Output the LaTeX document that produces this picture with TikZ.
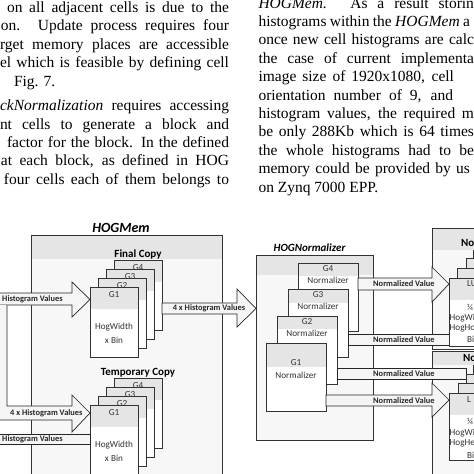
\documentclass[tikz,border=0pt]{standalone}
\usepackage{fontspec}
\setmainfont{Liberation Serif}
\newfontfamily\calib{Carlito}
\begin{document}
\begin{tikzpicture}[x=1pt,y=-1pt,
  txt/.style={inner sep=0pt, outer sep=0pt, anchor=base west, font=\fontsize{15.5}{18}\selectfont},
  box/.style={draw=black!80, line width=0.8pt, fill=black!3, anchor=north west, inner sep=0pt, outer sep=0pt,
    path picture={\fill[black!10] (path picture bounding box.north west) rectangle ([yshift=-#1]path picture bounding box.north east);}},
  box/.default=22pt,
  card/.style={draw=black!80, line width=0.8pt, fill=white, anchor=north west, inner sep=0pt, outer sep=0pt,
    path picture={\fill[black!10] (path picture bounding box.north west) rectangle ([yshift=-#1]path picture bounding box.north east);}},
  card/.default=22pt,
  barrow/.style={draw=black!85, line width=0.7pt, fill=black!4},
  bline/.style={draw=black!85, line width=0.7pt},
  alab/.style={font=\calib\bfseries\fontsize{8.4}{9}\selectfont, inner sep=0pt, text=black!85},
  clab/.style={font=\calib\fontsize{9.2}{10}\selectfont, inner sep=0pt, text=black!80},
  ttl/.style={font=\calib\bfseries\fontsize{11}{12}\selectfont, inner sep=0pt, text=black},
  bigttl/.style={font=\calib\bfseries\itshape\fontsize{14}{15}\selectfont, inner sep=0pt, text=black}
]
\useasboundingbox (0,0) rectangle (474,474);

% ---------- body text, left column ----------
\node[txt] (l1) at (7,12.5) {\makebox[222pt][s]{on all adjacent cells is due to the}};
\node[txt] (l2) at (1,30.9) {\makebox[228pt][s]{on. Update process requires four}};
\node[txt] (l3) at (0,49.3) {\makebox[229pt][s]{rget memory places are accessible}};
\node[txt] (l4) at (0,67.7) {\makebox[229pt][s]{el which is feasible by defining cell}};
\node[txt] (l5) at (14,86.1) {Fig. 7.};
\node[txt] (l6) at (0,110.5) {\makebox[229pt][s]{\textit{ckNormalization} requires accessing}};
\node[txt] (l7) at (0,129) {\makebox[229pt][s]{nt cells to generate a block and}};
\node[txt] (l8) at (7,147.4) {\makebox[222pt][s]{factor for the block. In the defined}};
\node[txt] (l9) at (1,165.8) {\makebox[228pt][s]{at each block, as defined in HOG}};
\node[txt] (l10) at (4,184.2) {\makebox[225pt][s]{four cells each of them belongs to}};

% ---------- body text, right column ----------
\node[txt] (r1) at (258.5,8) {\makebox[215.5pt][s]{\textit{HOGMem.} As a result storin}};
\node[txt] (r2) at (258.5,26.4) {\makebox[211.5pt][s]{histograms within the \textit{HOGMem} a}};
\node[txt] (r3) at (258.5,44.8) {\makebox[215.5pt][s]{once new cell histograms are calc}};
\node[txt] (r4) at (258.5,63.2) {\makebox[215.5pt][s]{the case of current implementa}};
\node[txt] (r5) at (258.5,81.6) {\makebox[195.5pt][s]{image size of 1920x1080, cell}};
\node[txt] (r6) at (258.5,100) {\makebox[194.5pt][s]{orientation number of 9, and}};
\node[txt] (r7) at (258.5,118.4) {\makebox[215.5pt][s]{histogram values, the required m}};
\node[txt] (r8) at (258.5,136.8) {\makebox[215.5pt][s]{be only 288Kb which is 64 times}};
\node[txt] (r9) at (258.5,155.2) {\makebox[215.5pt][s]{the whole histograms had to be}};
\node[txt] (r10) at (258.5,173.6) {\makebox[211.5pt][s]{memory could be provided by us}};
\node[txt] (r11) at (258.5,192) {on Zynq 7000 EPP.};

% ---------- HOGMem ----------
\node[bigttl] (memt) at (121,228) {HOGMem};
\node[box=24pt, minimum width=191pt, minimum height=255pt] (mem) at (31,235) {};

\node[ttl] (fct) at (138,255) {Final Copy};
\node[card, minimum width=48pt, minimum height=70pt] (f4) at (114,260) {};
\node[card, minimum width=48pt, minimum height=70pt] (f3) at (106,269) {};
\node[card, minimum width=48pt, minimum height=70pt] (f2) at (98,278) {};
\node[card, minimum width=48pt, minimum height=70pt] (f1) at (90,287) {};
\node[clab] (f4l) at (138,267.5) {G4};
\node[clab] (f3l) at (130,276.5) {G3};
\node[clab] (f2l) at (122,285.5) {G2};
\node[clab] (f1l) at (114,294.5) {G1};
\node[clab] (f1a) at (114,327.5) {HogWidth};
\node[clab] (f1b) at (114,340) {x Bin};

\node[ttl] (tct) at (138,373) {Temporary Copy};
\node[card, minimum width=48pt, minimum height=70pt] (t4) at (114,378) {};
\node[card, minimum width=48pt, minimum height=70pt] (t3) at (106,387) {};
\node[card, minimum width=48pt, minimum height=70pt] (t2) at (98,396) {};
\node[card, minimum width=48pt, minimum height=70pt] (t1) at (90,405) {};
\node[clab] (t4l) at (138,385.5) {G4};
\node[clab] (t3l) at (130,394.5) {G3};
\node[clab] (t2l) at (122,403.5) {G2};
\node[clab] (t1l) at (114,412.5) {G1};
\node[clab] (t1a) at (114,445.5) {HogWidth};
\node[clab] (t1b) at (114,458) {x Bin};

% ---------- HOGNormalizer ----------
\node[ttl, font=\calib\bfseries\itshape\fontsize{11}{12}\selectfont] (nort) at (309.5,247.5) {HOGNormalizer};
\node[box=20pt, minimum width=117pt, minimum height=185pt] (nor) at (256,255) {};
\node[card=13pt, minimum width=60pt, minimum height=68pt] (n4) at (298,263) {};
\node[card=13pt, minimum width=60pt, minimum height=68pt] (n3) at (288,289.5) {};
\node[card=13pt, minimum width=60pt, minimum height=68pt] (n2) at (277,316) {};
\node[card=24pt, minimum width=60pt, minimum height=68pt] (n1) at (266,343) {};
\node[clab] (n4l) at (328,269) {G4};
\node[clab] (n4b) at (328,280.5) {Normalizer};
\node[clab] (n3l) at (318,295) {G3};
\node[clab] (n3b) at (318,306.5) {Normalizer};
\node[clab] (n2l) at (307,321.5) {G2};
\node[clab] (n2b) at (307,333) {Normalizer};
\node[clab] (n1l) at (296,363) {G1};
\node[clab] (n1b) at (296,375) {Normalizer};

% ---------- right memory boxes ----------
\node[box=22pt, minimum width=100pt, minimum height=121pt] (rm1) at (432,228) {};
\node[box=14pt, minimum width=100pt, minimum height=140pt] (rm2) at (432,351) {};
\node[ttl, anchor=west] (rm1t) at (461,243) {No};
\node[ttl, anchor=west] (rm2t) at (463,358) {No};

% ---------- block arrows ----------
\draw[barrow] (-10,293) -- (72,293) -- (72,282) -- (90,299.5) -- (72,317) -- (72,305) -- (-10,305);
\node[alab, anchor=west] (hv1) at (2,299.5) {Histogram Values};

\fill[black!4] (-10,305) -- (7,305) -- (7,406) -- (72,406) -- (72,395) -- (90,413) -- (72,432) -- (72,420) -- (-10,420) -- cycle;
\draw[bline] (7,305) -- (7,406) -- (72,406) -- (72,395) -- (f1.west |- 0,413) -- (72,432) -- (72,420) -- (-10,420);
\node[alab, anchor=west] (hv4b) at (10,413) {4 x Histogram Values};

\draw[barrow] (-10,434) rectangle (t1.west |- 0,444);
\node[alab, anchor=west] (hv2) at (2,439) {Histogram Values};

\draw[barrow] (f4.east |- 0,303) -- (237,303) -- (237,289) -- (nor.west |- 0,308.5) -- (237,327) -- (237,314) -- (f4.east |- 0,314) -- cycle;
\node[alab] (hv4a) at (209,308.5) {4 x Histogram Values};

% normalized value arrows
\draw[barrow] (n4.east |- 0,278) -- (432,278) -- (432,267) -- (449,284) -- (432,302) -- (432,290) -- (n4.east |- 0,290) -- cycle;
\node[alab, anchor=west] (nv1) at (373,284) {Normalized Value};
\draw[barrow] (n3.east |- 0,334) rectangle (449,345);
\node[alab, anchor=west] (nv2) at (373,339.5) {Normalized Value};
\draw[barrow] (n2.east |- 0,368) rectangle (466,379);
\node[alab, anchor=west] (nv3) at (373,373.5) {Normalized Value};
\draw[barrow] (n1.east |- 0,395) -- (432,395) -- (432,383) -- (449,400) -- (432,417) -- (432,406) -- (n1.east |- 0,406) -- cycle;
\node[alab, anchor=west] (nv4) at (373,400.5) {Normalized Value};

% ---------- right stacks ----------
\node[card=12pt, minimum width=80pt, minimum height=68pt] (u4) at (473,250) {};
\node[card=12pt, minimum width=80pt, minimum height=68pt] (u3) at (466,258) {};
\node[card=12pt, minimum width=80pt, minimum height=68pt] (u2) at (457,268) {};
\node[card=22pt, minimum width=80pt, minimum height=68pt] (u1) at (449,278) {};
\node[clab, anchor=west] (u1a) at (467,284) {LU};
\node[clab, anchor=west] (u1b) at (467,307) {¼};
\node[clab, anchor=west] (u1c) at (449.5,318) {HogWi};
\node[clab, anchor=west] (u1d) at (449.5,328.5) {HogHo};
\node[clab, anchor=west] (u1e) at (467,339) {Bi};

\node[card=12pt, minimum width=80pt, minimum height=68pt] (w4) at (473,365) {};
\node[card=12pt, minimum width=80pt, minimum height=68pt] (w3) at (466,374) {};
\node[card=12pt, minimum width=80pt, minimum height=68pt] (w2) at (458,383) {};
\node[card=22pt, minimum width=80pt, minimum height=67pt] (w1) at (449,393) {};
\node[clab, anchor=west] (w1a) at (467,399.5) {L};
\node[clab, anchor=west] (w1b) at (467,421.5) {¼};
\node[clab, anchor=west] (w1c) at (449.5,433) {HogWi};
\node[clab, anchor=west] (w1d) at (449.5,443.5) {HogHe};
\node[clab, anchor=west] (w1e) at (467,455) {Bi};
\end{tikzpicture}
\end{document}
